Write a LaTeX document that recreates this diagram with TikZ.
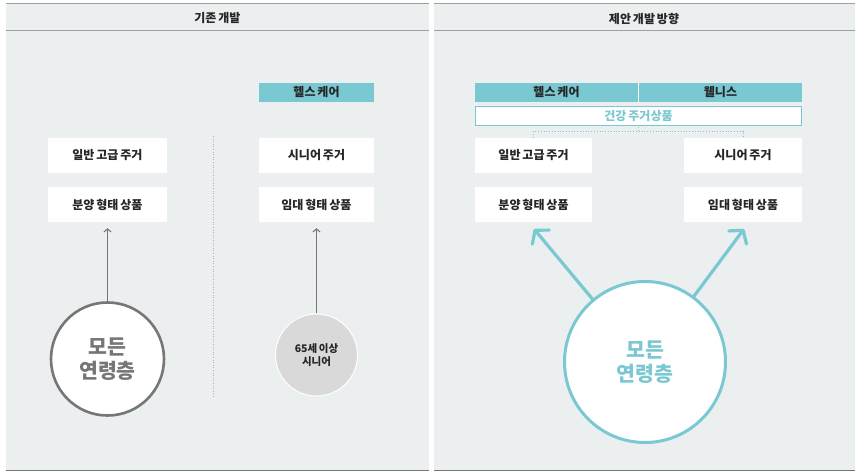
\documentclass[tikz,border=0pt]{standalone}
\usepackage{fontspec}
\setmainfont{Noto Sans CJK KR}[WordSpace=0.7]
\usetikzlibrary{arrows.meta}
\definecolor{panelbg}{HTML}{EBEFF0}
\definecolor{tealc}{HTML}{7AC8D2}
\definecolor{linegray}{HTML}{A0A0A0}
\definecolor{circgray}{HTML}{767676}
\definecolor{txt}{HTML}{262626}
\definecolor{seniorfill}{HTML}{D9D9D9}
\begin{document}
\begin{tikzpicture}[x=1pt,y=-1pt,
  lbl/.style={font=\fontsize{12}{13}\selectfont\bfseries, text=txt},
  wbox/.style={lbl, fill=white, minimum height=35pt, inner sep=0pt},
  tbar/.style={lbl, fill=tealc, minimum height=19pt, inner sep=0pt},
  hline/.style={draw=linegray, line width=1pt},
  thinarrow/.style={draw=circgray, line width=1.1pt, -{Straight Barb[length=3pt,width=7pt]}},
  bigarrow/.style={draw=tealc, line width=3.2pt, line cap=round, -{Straight Barb[length=9pt,width=22pt,round]}},
  circtext/.style={font=\fontsize{20.5}{24}\selectfont\bfseries, align=center}
]
\useasboundingbox (0,0) rectangle (860,473);
\fill[white] (0,0) rectangle (860,473);
% panels
\fill[panelbg] (6,4) rectangle (429,470);
\fill[panelbg] (434,4) rectangle (855,470);
\draw[hline] (6,4) -- (429,4);
\draw[hline] (6,31) -- (429,31);
\draw[hline, draw=circgray] (6,470) -- (429,470);
\draw[hline] (434,4) -- (855,4);
\draw[hline] (434,31) -- (855,31);
\draw[hline, draw=circgray] (434,470) -- (855,470);
% titles
\node[lbl] (t1) at (217.5,18.5) {기존 개발};
\node[lbl] (t2) at (644,18.5) {제안 개발 방향};
% left panel
\draw[draw=linegray!80, dotted, line width=0.6pt] (213,136) -- (213,398);
\node[wbox, minimum width=119pt] (b1) at (107.5,155.5) {일반 고급 주거};
\node[wbox, minimum width=119pt] (b2) at (107.5,204.5) {분양 형태 상품};
\node[tbar, minimum width=115pt] (hc1) at (316.5,92.5) {헬스 케어};
\node[wbox, minimum width=115pt] (b3) at (316.5,155.5) {시니어 주거};
\node[wbox, minimum width=115pt] (b4) at (316.5,204.5) {임대 형태 상품};
\node[circle, draw=circgray, line width=2.6pt, fill=white, minimum size=113pt, inner sep=0pt, circtext, text=circgray] (c1) at (107.5,359) {모든\\연령층};
\node[circle, draw=white, line width=1pt, fill=seniorfill, minimum size=82pt, inner sep=0pt, font=\fontsize{10.5}{13.5}\selectfont\bfseries, align=center, text=txt] (c2) at (316.5,355) {65세 이상\\시니어};
\draw[thinarrow, shorten >=6pt] (c1) -- (b2);
\draw[thinarrow, shorten >=6pt] (c2) -- (b4);
% right panel
\node[tbar, minimum width=163pt] (hc2) at (556.5,92.5) {헬스 케어};
\node[tbar, minimum width=163pt] (wel) at (720.5,92.5) {웰니스};
\draw[white, line width=1pt] (hc2.north east) -- (hc2.south east);
\node[lbl, fill=white, draw=tealc, line width=1pt, minimum width=326pt, minimum height=19pt, inner sep=0pt, text=tealc] (hp) at (638.5,116) {건강 주거상품};
\node[wbox, minimum width=117pt] (b5) at (533.5,155.5) {일반 고급 주거};
\node[wbox, minimum width=117pt] (b6) at (533.5,204.5) {분양 형태 상품};
\node[wbox, minimum width=118pt] (b7) at (743,155.5) {시니어 주거};
\node[wbox, minimum width=118pt] (b8) at (743,204.5) {임대 형태 상품};
\coordinate (dm) at (638.5,131);
\draw[tealc, dotted, line width=0.8pt] (b5.north) -- (b5.north |- dm) -- (b7.north |- dm) -- (b7.north);
\draw[tealc, dotted, line width=0.8pt] (dm) -- (hp.south);
\node[circle, draw=tealc, line width=3pt, fill=white, minimum size=161pt, inner sep=0pt, circtext, text=tealc] (c3) at (645,362) {모든\\연령층};
\coordinate (tipL) at (534,229);
\coordinate (tipR) at (744,229);
\draw[bigarrow] (c3) -- (tipL);
\draw[bigarrow] (c3) -- (tipR);
\end{tikzpicture}
\end{document}
